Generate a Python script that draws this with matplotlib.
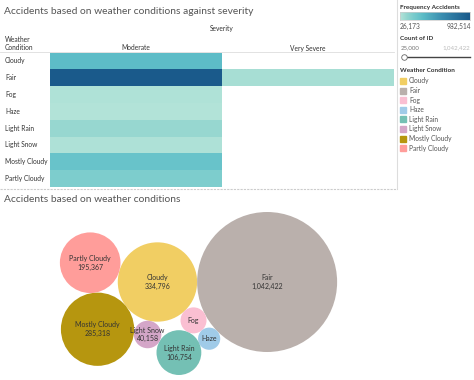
import numpy as np
import matplotlib
matplotlib.use('Agg')
import matplotlib.pyplot as plt
from matplotlib.colors import LinearSegmentedColormap
from matplotlib.patches import Circle, Rectangle

plt.rcParams['font.family'] = ['Lato', 'DejaVu Sans']

# данные
conditions = ['Cloudy', 'Fair', 'Fog', 'Haze', 'Light Rain', 'Light Snow',
              'Mostly Cloudy', 'Partly Cloudy']
severities = ['Moderate', 'Very Severe']
moderate = [334796, 982514, 35900, 26173, 106754, 40158, 285318, 195367]
very_severe = [np.nan, 59908, np.nan, np.nan, np.nan, np.nan, np.nan, np.nan]
totals = [334796, 1042422, 35900, 26173, 106754, 40158, 285318, 195367]
bubble_colors = ['#f1ce63', '#bab0ac', '#fabfd2', '#a0cbe8', '#74c0b4',
                 '#d4a6c8', '#b6960f', '#ff9d9a']

W, H = 474, 380
fig = plt.figure(figsize=(W / 100, H / 100), dpi=100)

def frac(x0, y0, x1, y1):
    # пиксели (сверху вниз) -> доли фигуры
    return [x0 / W, 1 - y1 / H, (x1 - x0) / W, (y1 - y0) / H]

# общий слой для текста и линий
ov = fig.add_axes([0, 0, 1, 1])
ov.set_xlim(0, W)
ov.set_ylim(H, 0)
ov.axis('off')
ov.set_zorder(10)

cmap = LinearSegmentedColormap.from_list('blueteal', [
    (0.0, '#b2e3d8'), (0.09, '#95d6cf'), (0.18, '#7ccdcd'),
    (0.27, '#68c3ca'), (0.33, '#5bbbc6'), (0.6, '#3a8db0'),
    (1.0, '#1a5a8b')])
vmin, vmax = min(moderate), max(moderate)

# ---- теплокарта ----
hm = fig.add_axes(frac(50, 52.5, 394, 187))
data = np.ma.masked_invalid(np.array([moderate, very_severe], dtype=float).T)
hm.pcolormesh(data, cmap=cmap, vmin=vmin, vmax=vmax, edgecolors='none')
hm.set_xlim(0, len(severities))
hm.set_ylim(len(conditions), 0)
hm.axis('off')

gray = '#555555'
dark = '#333333'
fs = 4.8
ov.text(4, 12, 'Accidents based on weather conditions against severity',
        fontsize=7.4, color=gray, va='center')
ov.text(222, 29, 'Severity', fontsize=fs, color=dark, ha='center', va='center')
ov.text(5, 40, 'Weather', fontsize=fs, color=dark, va='center')
ov.text(5, 48, 'Condition', fontsize=fs, color=dark, va='center')
for i, s in enumerate(severities):
    ov.text(50 + 172 * (i + 0.5), 48, s, fontsize=fs, color=dark,
            ha='center', va='center')
row_h = (187 - 52.5) / len(conditions)
for i, c in enumerate(conditions):
    ov.text(5, 52.5 + row_h * (i + 0.5), c, fontsize=fs, color=dark,
            va='center')
ov.plot([0, 394], [52, 52], color='#dddddd', lw=0.6)
ov.plot([397, 397], [0, 189], color='#dddddd', lw=0.8)
ov.plot([0, 397], [189, 189], color='#cccccc', lw=0.8, ls=(0, (2, 1)))

# ---- легенда ----
ov.text(400, 7, 'Frequency Accidents', fontsize=4.6, color=dark,
        va='center', fontweight='bold')
cb = fig.add_axes(frac(400, 12, 470, 20))
cb.imshow(np.linspace(0, 1, 100)[None, :], cmap=cmap, aspect='auto')
cb.set_xticks([])
cb.set_yticks([])
for sp in cb.spines.values():
    sp.set_color('#cccccc')
    sp.set_linewidth(0.5)
ov.text(400, 26, f'{vmin:,}', fontsize=fs, color=gray, va='center')
ov.text(471, 26, f'{vmax:,}', fontsize=fs, color=gray, va='center', ha='right')
ov.text(400, 38, 'Count of ID', fontsize=4.6, color=dark, va='center',
        fontweight='bold')
ov.text(401, 48, '25,000', fontsize=4.4, color='#777777', va='center')
ov.text(470, 48, f'{max(totals):,}', fontsize=4.4, color='#bbbbbb',
        va='center', ha='right')
ov.plot([404, 470], [57, 57], color='#444444', lw=1)
ov.plot([404], [57], marker='o', ms=4, mfc='white', mec='#666666', mew=0.6)
ov.text(400, 71, 'Weather Condition', fontsize=4.6, color=dark, va='center',
        fontweight='bold')
for i, (c, col) in enumerate(zip(conditions, bubble_colors)):
    y = 81 + 9.6 * i
    ov.add_patch(Rectangle((400.5, y - 3), 6, 6, color=col))
    ov.text(409, y, c, fontsize=fs, color=gray, va='center')

# ---- пузырьки ----
ov.text(4, 200, 'Accidents based on weather conditions', fontsize=7.4,
        color=gray, va='center')

k = 70 / np.sqrt(max(totals))
radii = {c: k * np.sqrt(v) for c, v in zip(conditions, totals)}
pos = {}

def touch(a, b, r, side):
    # круг радиуса r касается кругов a и b
    pa, pb = np.array(pos[a]), np.array(pos[b])
    d = np.linalg.norm(pb - pa)
    la, lb = radii[a] + r, radii[b] + r
    ct = (la ** 2 + d ** 2 - lb ** 2) / (2 * la * d)
    st = np.sqrt(max(0, 1 - ct ** 2))
    u = (pb - pa) / d
    p = np.array([-u[1], u[0]])
    return pa + la * (u * ct + side * p * st)

pos['Fair'] = np.array([0.0, 0.0])
pos['Cloudy'] = np.array([-(radii['Fair'] + radii['Cloudy']), 0.0])
ang = np.deg2rad(196)
dpc = radii['Cloudy'] + radii['Partly Cloudy']
pos['Partly Cloudy'] = pos['Cloudy'] + dpc * np.array([np.cos(ang), np.sin(ang)])
pos['Mostly Cloudy'] = touch('Cloudy', 'Partly Cloudy', radii['Mostly Cloudy'], -1)
pos['Fog'] = touch('Cloudy', 'Fair', radii['Fog'], 1)
pos['Haze'] = touch('Fog', 'Fair', radii['Haze'], 1)
pos['Light Snow'] = touch('Mostly Cloudy', 'Cloudy', radii['Light Snow'], 1)
pos['Light Rain'] = touch('Light Snow', 'Fog', radii['Light Rain'], 1)

bx = fig.add_axes(frac(0, 207, 397, 380))
xs = [pos[c][0] for c in conditions]
ys = [pos[c][1] for c in conditions]
rs = [radii[c] for c in conditions]
x0 = min(x - r for x, r in zip(xs, rs))
x1 = max(x + r for x, r in zip(xs, rs))
y0 = min(y - r for y, r in zip(ys, rs))
y1 = max(y + r for y, r in zip(ys, rs))
cx, cy = (x0 + x1) / 2, (y0 + y1) / 2
bx.set_xlim(cx - 198.5, cx + 198.5)
bx.set_ylim(cy + 86.5, cy - 86.5)
bx.axis('off')
for c, v, col in zip(conditions, totals, bubble_colors):
    bx.add_patch(Circle(pos[c], radii[c], color=col, lw=0))
    label = c if radii[c] < 13.5 else f'{c}\n{v:,}'
    bx.text(pos[c][0], pos[c][1], label, ha='center', va='center',
            fontsize=5.0, color=dark, linespacing=1.3)

fig.savefig('out.png', dpi=100)
